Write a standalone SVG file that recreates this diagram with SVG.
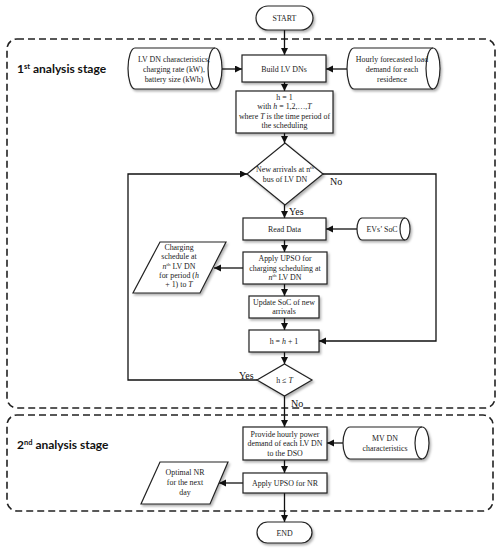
<svg xmlns="http://www.w3.org/2000/svg" width="500" height="550" viewBox="0 0 500 550">
<style>
.sh{fill:#fff;stroke:#222;stroke-width:1.2;filter:url(#ds)}
.t{font-family:"Liberation Serif","Times New Roman",serif;font-size:7.9px;fill:#222;text-anchor:middle}
.lb{font-family:"Liberation Serif","Times New Roman",serif;font-size:10px;fill:#111}
.st{font-family:Lato,"Open Sans","Liberation Sans",sans-serif;font-size:12px;font-weight:bold;fill:#111}
.stage{fill:none;stroke:#222;stroke-width:1.6;stroke-dasharray:7,4}
.c{fill:none;stroke:#111;stroke-width:1.3}
</style>
<defs>
<marker id="ah" markerUnits="userSpaceOnUse" markerWidth="8" markerHeight="8" refX="7" refY="3.5" orient="auto">
<path d="M0,0 L7,3.5 L0,7 z" fill="#111"/>
</marker>
<filter id="ds" x="-10%" y="-10%" width="130%" height="140%">
<feDropShadow dx="1.5" dy="2" stdDeviation="1.2" flood-color="#000" flood-opacity="0.3"/>
</filter>
</defs>
<rect width="500" height="550" fill="#fff"/>

<g id="stage1">
<rect class="stage" x="7" y="39" width="488" height="369" rx="10"/>
<text class="st" x="17" y="73">1<tspan font-size="7.5" dy="-4">st</tspan><tspan dy="4"> analysis stage</tspan></text>
</g>
<g id="stage2">
<rect class="stage" x="7" y="415" width="486" height="96" rx="10"/>
<text class="st" x="17" y="449">2<tspan font-size="7.5" dy="-4">nd</tspan><tspan dy="4"> analysis stage</tspan></text>
</g>

<g id="connectors">
<line class="c" x1="284.5" y1="30" x2="284.5" y2="55" marker-end="url(#ah)"/>
<line class="c" x1="222" y1="69" x2="242" y2="69" marker-end="url(#ah)"/>
<line class="c" x1="347" y1="69" x2="326" y2="69" marker-end="url(#ah)"/>
<line class="c" x1="284.5" y1="82" x2="284.5" y2="91" marker-end="url(#ah)"/>
<line class="c" x1="284.5" y1="133" x2="284.5" y2="143" marker-end="url(#ah)"/>
<line class="c" x1="284.5" y1="205" x2="284.5" y2="218" marker-end="url(#ah)"/>
<line class="c" x1="357" y1="229" x2="326" y2="229" marker-end="url(#ah)"/>
<line class="c" x1="284.5" y1="240" x2="284.5" y2="252" marker-end="url(#ah)"/>
<line class="c" x1="243" y1="268" x2="214" y2="268" marker-end="url(#ah)"/>
<line class="c" x1="284.5" y1="284" x2="284.5" y2="296" marker-end="url(#ah)"/>
<line class="c" x1="284.5" y1="318" x2="284.5" y2="330" marker-end="url(#ah)"/>
<line class="c" x1="284.5" y1="352" x2="284.5" y2="364" marker-end="url(#ah)"/>
<polyline class="c" points="323,174 436,174 436,341 319,341" marker-end="url(#ah)"/>
<polyline class="c" points="257,380 128,380 128,174 247,174" marker-end="url(#ah)"/>
<line class="c" x1="284.5" y1="396" x2="284.5" y2="427" marker-end="url(#ah)"/>
<line class="c" x1="343" y1="443" x2="327" y2="443" marker-end="url(#ah)"/>
<line class="c" x1="284.5" y1="460" x2="284.5" y2="473" marker-end="url(#ah)"/>
<line class="c" x1="243" y1="483" x2="219" y2="483" marker-end="url(#ah)"/>
<line class="c" x1="284.5" y1="493" x2="284.5" y2="522" marker-end="url(#ah)"/>
<text class="lb" x="330" y="185">No</text>
<text class="lb" x="289" y="215">Yes</text>
<text class="lb" x="239" y="379">Yes</text>
<text class="lb" x="291" y="407">No</text>
</g>

<g id="start">
<rect class="sh" x="256" y="6" width="57" height="24" rx="12"/>
<text class="t" x="284.5" y="21">START</text>
</g>

<g id="lvdn">
<path class="sh" d="M135,48 L215,48 A7,20.5 0 0 1 215,89 L135,89 A7,20.5 0 0 1 135,48 Z"/>
<path d="M215,48 A7,20.5 0 0 0 215,89" fill="none" stroke="#222" stroke-width="1.2"/>
<text class="t" x="174" y="62">LV DN characteristics,</text>
<text class="t" x="174" y="72">charging rate (kW),</text>
<text class="t" x="174" y="82">battery size (kWh)</text>
</g>

<g id="build">
<rect class="sh" x="242" y="55" width="84" height="27"/>
<text class="t" x="284" y="71.5">Build LV DNs</text>
</g>

<g id="hourly">
<path class="sh" d="M354,48 L433,48 A7,20.5 0 0 1 433,89 L354,89 A7,20.5 0 0 1 354,48 Z"/>
<path d="M433,48 A7,20.5 0 0 0 433,89" fill="none" stroke="#222" stroke-width="1.2"/>
<text class="t" x="392" y="62">Hourly forecasted load</text>
<text class="t" x="392" y="72">demand for each</text>
<text class="t" x="392" y="82">residence</text>
</g>

<g id="hinit">
<rect class="sh" x="236" y="91" width="97" height="42"/>
<text class="t" x="284.5" y="100">h = 1</text>
<text class="t" x="284.5" y="109">with <tspan font-style="italic">h</tspan> = 1,2,…,<tspan font-style="italic">T</tspan></text>
<text class="t" x="284.5" y="118.5">where <tspan font-style="italic">T</tspan> is the time period of</text>
<text class="t" x="284.5" y="128">the scheduling</text>
</g>

<g id="arrivals">
<polygon class="sh" points="285,143 323,174 285,205 247,174"/>
<text class="t" x="285" y="172">New arrivals at n<tspan font-size="5" dy="-3">th</tspan></text>
<text class="t" x="285" y="182">bus of LV DN</text>
</g>

<g id="readdata">
<rect class="sh" x="243" y="218" width="83" height="22"/>
<text class="t" x="284.5" y="232">Read Data</text>
</g>

<g id="evsoc">
<path class="sh" d="M362,218 L405,218 A5,11 0 0 1 405,240 L362,240 A5,11 0 0 1 362,218 Z"/>
<path d="M405,218 A5,11 0 0 0 405,240" fill="none" stroke="#222" stroke-width="1.2"/>
<text class="t" x="382" y="232">EVs’ SoC</text>
</g>

<g id="upso">
<rect class="sh" x="243" y="252" width="84" height="32"/>
<text class="t" x="285" y="261">Apply UPSO for</text>
<text class="t" x="285" y="270.5">charging scheduling at</text>
<text class="t" x="285" y="280"><tspan font-style="italic">n</tspan><tspan font-size="5" dy="-3">th</tspan><tspan dy="3"> LV DN</tspan></text>
</g>

<g id="schedule">
<polygon class="sh" points="160,242 226,242 200,293 133,293"/>
<text class="t" x="179" y="250">Charging</text>
<text class="t" x="179" y="259">schedule at</text>
<text class="t" x="179" y="268.5"><tspan font-style="italic">n</tspan><tspan font-size="5" dy="-3">th</tspan><tspan dy="3"> LV DN</tspan></text>
<text class="t" x="179" y="278">for period  (<tspan font-style="italic">h</tspan></text>
<text class="t" x="179" y="287">+ 1) to <tspan font-style="italic">T</tspan></text>
</g>

<g id="updsoc">
<rect class="sh" x="249" y="296" width="70" height="22"/>
<text class="t" x="284" y="304.5">Update SoC of new</text>
<text class="t" x="284" y="314">arrivals</text>
</g>

<g id="hinc">
<rect class="sh" x="249" y="330" width="70" height="22"/>
<text class="t" x="284" y="344">h = <tspan font-style="italic">h</tspan> + 1</text>
</g>

<g id="hcheck">
<polygon class="sh" points="284.5,364 312,380 284.5,396 257,380"/>
<text class="t" x="284.5" y="383">h ≤ <tspan font-style="italic">T</tspan></text>
</g>

<g id="provide">
<rect class="sh" x="243" y="427" width="84" height="33"/>
<text class="t" x="285" y="436.5">Provide hourly power</text>
<text class="t" x="285" y="446">demand of each LV DN</text>
<text class="t" x="285" y="455.5">to the DSO</text>
</g>

<g id="mvdn">
<path class="sh" d="M350,427 L422,427 A7,16 0 0 1 422,459 L350,459 A7,16 0 0 1 350,427 Z"/>
<path d="M422,427 A7,16 0 0 0 422,459" fill="none" stroke="#222" stroke-width="1.2"/>
<text class="t" x="385" y="441">MV DN</text>
<text class="t" x="385" y="451">characteristics</text>
</g>

<g id="upsonr">
<rect class="sh" x="243" y="473" width="84" height="20"/>
<text class="t" x="285" y="486">Apply UPSO for NR</text>
</g>

<g id="optimal">
<polygon class="sh" points="160,462 228,462 210,504 141,504"/>
<text class="t" x="185" y="475">Optimal NR</text>
<text class="t" x="185" y="485">for the next</text>
<text class="t" x="185" y="495">day</text>
</g>

<g id="end">
<rect class="sh" x="257" y="522" width="55" height="21" rx="10.5"/>
<text class="t" x="284.5" y="535.5">END</text>
</g>
</svg>
